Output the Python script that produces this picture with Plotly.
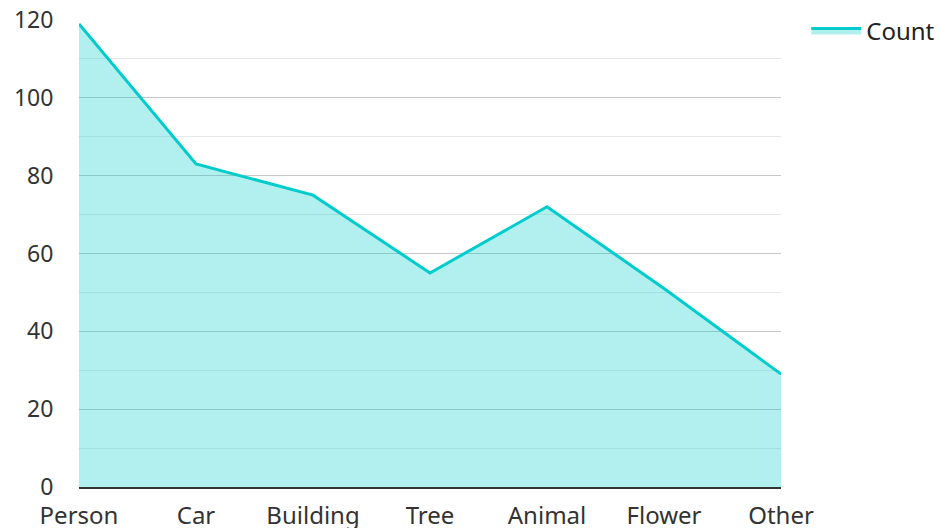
import plotly.graph_objects as go

categories = ["Person", "Car", "Building", "Tree", "Animal", "Flower", "Other"]
counts = [119, 83, 75, 55, 72, 51, 29]
series_name = "Count"

fig = go.Figure()
fig.add_trace(go.Scatter(
    x=categories, y=counts, name=series_name, mode="lines",
    line=dict(color="#00CCCC", width=3),
    fill="tozeroy", fillcolor="rgba(0,204,204,0.30)",
))

fig.update_layout(
    width=939, height=528,
    margin=dict(l=79, r=158, t=20, b=41, autoexpand=False),
    paper_bgcolor="white", plot_bgcolor="white",
    font=dict(family="Noto Sans, Open Sans, sans-serif", size=24, color="#333333"),
    showlegend=True,
    legend=dict(x=1.036, y=1.025, xanchor="left", yanchor="top",
                itemwidth=50,
                font=dict(size=24, color="#222222"), bgcolor="rgba(0,0,0,0)"),
    xaxis=dict(
        type="category", range=[0, 6], showgrid=False, automargin=False,
        showline=True, linecolor="#333333", linewidth=2,
        ticks="outside", ticklen=6, tickcolor="rgba(0,0,0,0)",
        tickfont=dict(size=24), zeroline=False,
    ),
    yaxis=dict(
        range=[0, 120], dtick=20, showgrid=True, gridcolor="#c8c8c8", gridwidth=1,
        minor=dict(dtick=10, showgrid=True, gridcolor="#e8e8e8", gridwidth=1),
        zeroline=False, showline=False, automargin=False,
        ticks="outside", ticklen=20, tickcolor="rgba(0,0,0,0)",
        tickfont=dict(size=23),
    ),
)

fig.write_html("out.html", config={"displayModeBar": False},
               post_script="document.body.style.margin='0';")
